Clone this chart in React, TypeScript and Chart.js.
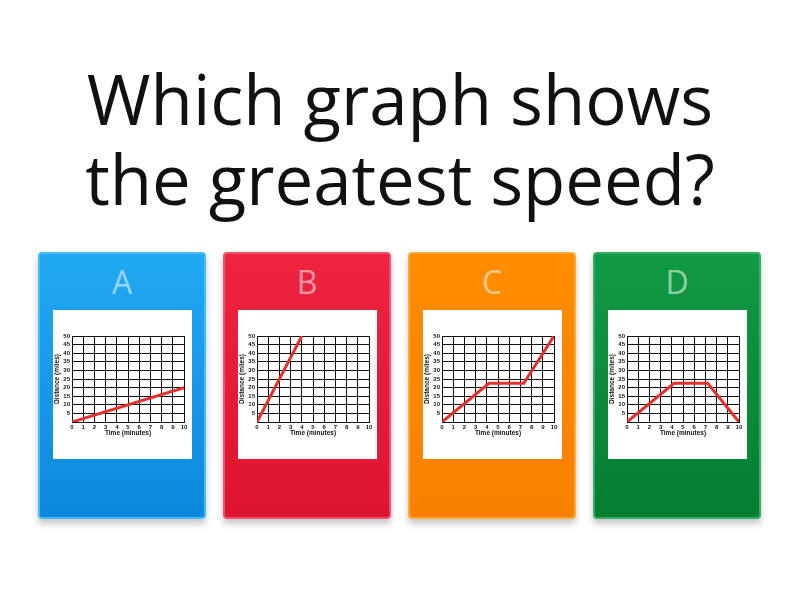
import React, { useEffect, useRef } from 'react'
import Chart from 'chart.js/auto'

// quiz question
const question = ['Which graph shows', 'the greatest speed?']

// card letters and colours
const cardLetters = ['A', 'B', 'C', 'D']
const cardTop = ['#22a9f3', '#ee2340', '#ff8d00', '#109a43']
const cardBottom = ['#0d88dd', '#dc1530', '#f97f00', '#067e32']
const cardEdge = ['#45bcf8', '#f4526a', '#ffaa33', '#35ad63']

// axis ticks
const xTicks = [0, 1, 2, 3, 4, 5, 6, 7, 8, 9, 10]
const yTicks = [0, 5, 10, 15, 20, 25, 30, 35, 40, 45, 50]

// distance-time series, one per card
const timeA = [0, 10]
const distA = [0, 20]
const timeB = [0, 4]
const distB = [0, 50]
const timeC = [0, 4.2, 7.3, 10]
const distC = [0, 22.5, 22.5, 50]
const timeD = [0, 4.2, 7.2, 10]
const distD = [0, 22.5, 22.5, 0]

const seriesX = [timeA, timeB, timeC, timeD]
const seriesY = [distA, distB, distC, distD]

type MiniProps = { xs: number[]; ys: number[] }

const MiniGraph: React.FC<MiniProps> = ({ xs, ys }) => {
  const chartRef = useRef<HTMLCanvasElement | null>(null)

  useEffect(() => {
    if (!chartRef.current) return
    const ctx = chartRef.current.getContext('2d')
    if (!ctx) return

    const tickFont = { family: 'Liberation Sans, Arial', size: 6, weight: 'bold' as const }
    const titleFont = { family: 'Liberation Sans, Arial', size: 6.5, weight: 'bold' as const }

    const myChart = new Chart(ctx, {
      type: 'scatter',
      data: {
        datasets: [
          {
            data: xs.map((x, i) => ({ x, y: ys[i] })),
            showLine: true,
            borderColor: '#e2312f',
            borderWidth: 3,
            pointRadius: 0,
            tension: 0,
          },
        ],
      },
      options: {
        animation: false,
        responsive: true,
        maintainAspectRatio: false,
        layout: { padding: { top: 26, right: 8, bottom: 22, left: 0 } },
        plugins: { legend: { display: false }, tooltip: { enabled: false } },
        scales: {
          x: {
            type: 'linear',
            min: xTicks[0],
            max: xTicks[xTicks.length - 1],
            afterBuildTicks: (s: any) => {
              s.ticks = xTicks.map((v) => ({ value: v }))
            },
            afterFit: (s: any) => {
              s.height = 15
            },
            grid: { color: '#111', lineWidth: 1, drawTicks: false },
            border: { color: '#111' },
            ticks: { font: tickFont, color: '#111', padding: 2, maxRotation: 0, autoSkip: false },
            title: {
              display: true,
              text: 'Time (minutes)',
              font: titleFont,
              color: '#111',
              padding: { top: -1, bottom: 0 },
            },
          },
          y: {
            type: 'linear',
            min: yTicks[0],
            max: yTicks[yTicks.length - 1],
            afterBuildTicks: (s: any) => {
              s.ticks = yTicks.map((v) => ({ value: v }))
            },
            afterFit: (s: any) => {
              s.width = 19
            },
            grid: { color: '#111', lineWidth: 1, drawTicks: false },
            border: { color: '#111' },
            ticks: {
              font: tickFont,
              color: '#111',
              padding: 2,
              autoSkip: false,
              callback: (v: any) => (v === 0 ? '' : String(v)),
            },
            title: {
              display: true,
              text: 'Distance (miles)',
              font: titleFont,
              color: '#111',
              padding: { top: 0, bottom: 0 },
            },
          },
        },
      },
    })

    return () => {
      myChart.destroy()
    }
  }, [xs, ys])

  return (
    <div style={{ position: 'relative', width: '139px', height: '149px' }}>
      <canvas ref={chartRef} />
    </div>
  )
}

const App: React.FC = () => {
  useEffect(() => {
    document.body.style.margin = '0'
    document.body.style.background = '#fff'
  }, [])

  return (
    <div style={{ position: 'relative', width: '800px', height: '600px', background: '#fff', overflow: 'hidden' }}>
      {question.map((line, i) => (
        <div
          key={line}
          style={{
            position: 'absolute',
            top: `${58 + i * 80}px`,
            left: 0,
            width: '800px',
            height: '80px',
            textAlign: 'center',
            fontFamily: '"Open Sans", sans-serif',
            fontSize: '69px',
            lineHeight: '80px',
            color: '#111',
          }}
        >
          {line}
        </div>
      ))}
      {cardLetters.map((letter, i) => (
        <div
          key={letter}
          style={{
            position: 'absolute',
            left: `${38 + i * 185}px`,
            top: '252px',
            width: '168px',
            height: '267px',
            boxSizing: 'border-box',
            borderRadius: '4px',
            border: `2px solid ${cardEdge[i]}`,
            background: `linear-gradient(${cardTop[i]}, ${cardBottom[i]})`,
            boxShadow: '0 5px 7px rgba(0,0,0,0.22)',
          }}
        >
          <div
            style={{
              position: 'absolute',
              top: '8px',
              left: 0,
              width: '100%',
              textAlign: 'center',
              fontFamily: '"Open Sans", sans-serif',
              fontSize: '32px',
              lineHeight: '40px',
              color: 'rgba(255,255,255,0.55)',
            }}
          >
            {letter}
          </div>
          <div style={{ position: 'absolute', left: '13px', top: '56px', background: '#fff' }}>
            <MiniGraph xs={seriesX[i]} ys={seriesY[i]} />
          </div>
        </div>
      ))}
    </div>
  )
}

export default App
